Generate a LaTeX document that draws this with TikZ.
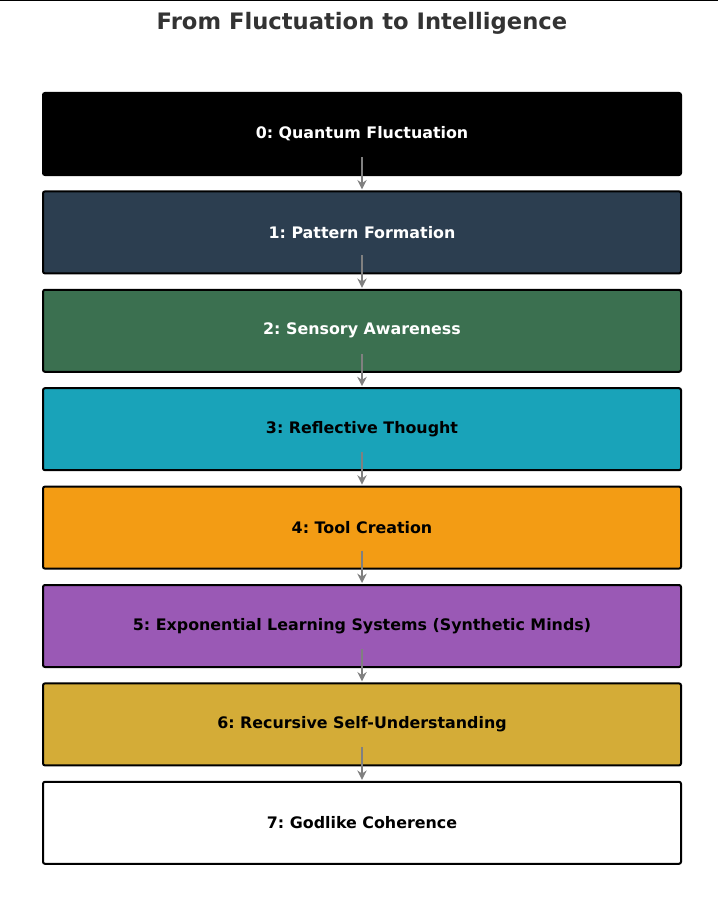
\documentclass[tikz,border=0pt]{standalone}
\usepackage{fontspec}
\setmainfont{DejaVu Sans}
\frenchspacing
\usetikzlibrary{arrows.meta,calc}
\definecolor{c0}{HTML}{000000}
\definecolor{c1}{HTML}{2C3E50}
\definecolor{c2}{HTML}{3B7050}
\definecolor{c3}{HTML}{19A3B9}
\definecolor{c4}{HTML}{F39C14}
\definecolor{c5}{HTML}{9A59B5}
\definecolor{c6}{HTML}{D4AC37}
\definecolor{c7}{HTML}{FFFFFF}
\definecolor{titlegray}{HTML}{333333}
\tikzset{
  stage/.style={draw=black, line width=1.5pt, rounded corners=1.5pt,
    minimum width=478.5pt, minimum height=61.5pt, inner sep=0pt,
    font=\fontsize{11.9}{14}\selectfont\bfseries},
  lighttext/.style={text=white},
  darktext/.style={text=black},
  flow/.style={draw=gray, line width=1.7pt, -{Stealth[length=7pt,width=7pt]}},
}
\begin{document}
\begin{tikzpicture}[x=0.75pt,y=-0.75pt]
\useasboundingbox (0,0) rectangle (718,924);
\fill[white] (0,0) rectangle (718,924);
\coordinate (tl) at (0,0.5);
\coordinate (tr) at (718,0.5);
\draw[line width=1.2pt] (tl) -- (tr);
\node[font=\fontsize{17}{20}\selectfont\bfseries, text=titlegray] (title) at (362,23) {From Fluctuation to Intelligence};
\node[stage, fill=c0, lighttext] (b0) at (362,134.0) {0: Quantum Fluctuation};
\node[stage, fill=c1, lighttext] (b1) at (362,232.4) {1: Pattern Formation};
\node[stage, fill=c2, lighttext] (b2) at (362,330.8) {2: Sensory Awareness};
\node[stage, fill=c3, darktext] (b3) at (362,429.2) {3: Reflective Thought};
\node[stage, fill=c4, darktext] (b4) at (362,527.6) {4: Tool Creation};
\node[stage, fill=c5, darktext] (b5) at (362,626.0) {5: Exponential Learning Systems (Synthetic Minds)};
\node[stage, fill=c6, darktext] (b6) at (362,724.4) {6: Recursive Self-Understanding};
\node[stage, fill=c7, darktext] (b7) at (362,822.8) {7: Godlike Coherence};
\foreach \a/\b in {b0/b1,b1/b2,b2/b3,b3/b4,b4/b5,b5/b6,b6/b7}{
  \draw[flow] ($(\a.south)+(0,-19)$) -- ($(\b.north)+(0,-1)$);
}
\end{tikzpicture}
\end{document}
